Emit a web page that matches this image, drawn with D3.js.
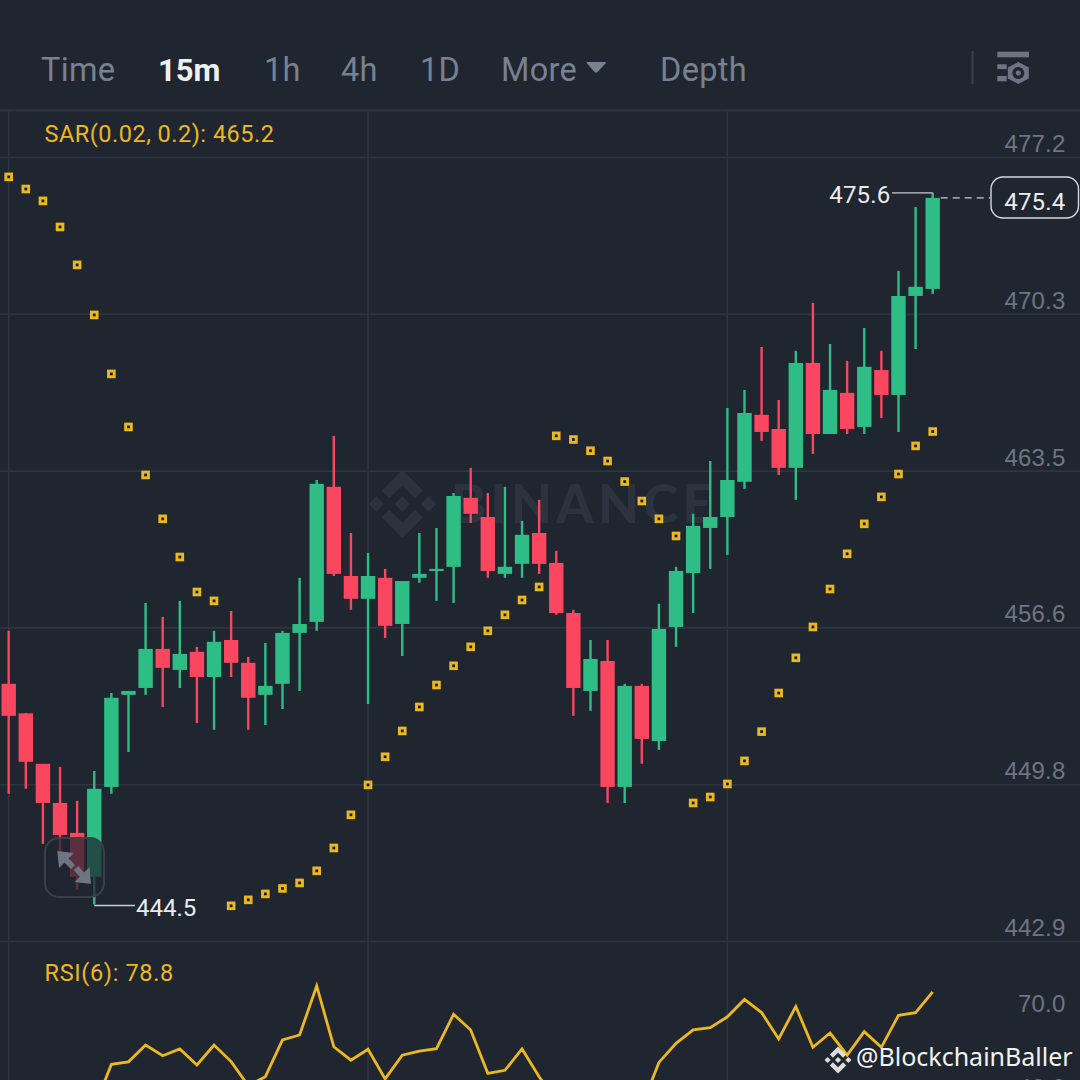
<!DOCTYPE html>
<html>
<head>
<meta charset="utf-8">
<script src="https://cdnjs.cloudflare.com/ajax/libs/d3/7.8.5/d3.min.js"></script>
<style>
  html, body { margin: 0; padding: 0; background: #1f2630; }
  svg { display: block; font-family: Roboto, sans-serif; }
</style>
</head>
<body>
<svg id="chart"></svg>
<script>
const candleOpen = [454.15,452.86,450.65,448.94,447.63,445.71,449.64,453.67,453.97,455.68,454.76,455.55,454.45,456.07,455.07,453.67,454.15,456.38,456.86,462.77,458.87,457.87,458.79,456.77,458.79,459.09,459.27,462.29,461.45,458.96,459.40,460.75,459.44,457.25,453.84,455.15,449.64,454.06,451.65,456.64,459.00,460.97,461.45,462.99,465.92,465.30,463.60,468.19,465.08,466.88,465.39,467.88,466.79,471.12,471.43];
const candleClose = [452.75,450.74,448.94,447.54,445.71,449.56,453.54,453.84,455.68,454.85,455.46,454.45,455.99,455.07,453.54,454.06,456.38,456.77,462.90,458.96,457.87,458.87,456.69,458.65,458.96,459.18,462.37,461.59,459.09,459.27,460.67,459.40,457.25,453.97,455.24,449.64,454.06,451.74,456.55,459.09,461.06,461.45,463.07,466.00,465.17,463.60,468.19,465.08,467.01,465.30,468.02,466.79,471.12,471.52,475.41];
const candleHigh = [456.47,452.88,450.65,450.52,449.03,450.34,453.75,453.84,457.69,457.08,457.78,455.77,456.47,457.34,455.33,455.94,456.47,458.79,463.07,465.00,460.75,459.88,459.18,458.65,460.75,460.97,462.50,463.60,462.50,462.77,461.28,462.20,459.97,457.39,456.07,456.07,454.15,454.15,457.65,459.27,461.59,463.90,466.22,467.01,468.89,466.57,468.72,470.82,469.02,468.28,469.72,468.72,472.22,475.01,475.63];
const candleLow = [449.34,449.56,447.15,446.80,445.14,444.50,449.34,451.17,453.67,453.14,453.97,452.44,452.14,454.45,452.14,452.35,453.05,453.84,456.47,458.87,457.39,453.27,456.16,455.37,458.57,457.78,457.69,461.19,458.79,458.79,458.79,458.96,457.17,452.75,452.97,448.94,448.94,450.65,451.26,455.77,457.25,459.18,459.79,462.68,464.78,463.29,462.20,464.21,465.08,465.08,465.08,465.78,465.17,468.80,471.21];
const sarValues = [476.33,475.80,475.28,474.14,472.48,470.29,467.71,465.39,463.29,461.37,459.70,458.17,457.78,444.44,444.70,444.96,445.20,445.44,445.97,446.97,448.42,449.73,450.96,452.09,453.14,454.10,454.94,455.77,456.47,457.17,457.82,458.39,465.00,464.84,464.35,463.90,463.00,462.15,461.37,460.62,448.94,449.20,449.77,450.78,452.06,453.75,455.29,456.64,458.30,459.84,461.15,462.33,463.33,464.56,465.19];
const rsiValues = [null,null,null,null,null,37.5,52.9,53.8,59.8,56.0,58.4,52.7,59.8,53.9,45.3,48.5,61.6,63.4,80.9,59.2,54.4,58.3,47.7,56.2,57.6,58.5,70.8,65.2,49.7,50.8,58.4,48.5,40.0,33.0,36.0,25.0,28.0,38.0,53.6,60.4,65.2,66.0,69.9,76.1,71.4,62.0,73.6,59.0,64.1,56.2,64.6,59.0,70.4,71.4,78.8];
const priceTicks = [477.2,470.34,463.48,456.62,449.76,442.9];
const rsiTicks = [70,40];
const gridCandles = [0,21,42];
const menuItems = ["Time","15m","1h","4h","1D","More","Depth"];
const menuX = [41,158,264,341,420,501,660];

const width = 1080;
const height = 1080;
const green = "#2ebd85";
const red = "#fb4660";
const gold = "#ecb81f";
const gridColor = "#2e3541";
const bg = "#1f2630";
const axisGrey = "#6d7582";

const svg = d3.select("#chart")
  .attr("width", width)
  .attr("height", height)
  .style("background", bg);

const x = d3.scaleLinear().domain([0, candleOpen.length - 1]).range([8.7, 932.7]);
const y = d3.scaleLinear().domain([442.9, 477.2]).range([941, 157]);
const yRsi = d3.scaleLinear().domain([40, 70]).range([1100.5, 1016.5]);

// vertical grid
svg.selectAll(".vgrid")
  .data(gridCandles)
  .join("line")
    .attr("class", "vgrid")
    .attr("x1", d => x(d))
    .attr("x2", d => x(d))
    .attr("y1", 111)
    .attr("y2", height)
    .attr("stroke", gridColor)
    .attr("stroke-width", 1.6);

// price axis, ticks double as the horizontal grid
const priceAxis = d3.axisRight(y)
  .tickValues(priceTicks)
  .tickSize(width)
  .tickFormat(d3.format(".1f"));
svg.append("g")
  .call(priceAxis)
  .call(g => g.select(".domain").remove())
  .call(g => g.selectAll("line").attr("stroke", gridColor).attr("stroke-width", 1.6))
  .call(g => g.selectAll("text")
    .attr("x", 1065.5)
    .attr("dy", "-5.5")
    .attr("text-anchor", "end")
    .attr("fill", axisGrey)
    .style("font-size", "24px")
    .style("letter-spacing", "0.2px"));

const rsiAxis = d3.axisRight(yRsi)
  .tickValues(rsiTicks)
  .tickSize(0)
  .tickFormat(d3.format(".1f"));
svg.append("g")
  .call(rsiAxis)
  .call(g => g.select(".domain").remove())
  .call(g => g.selectAll("text")
    .attr("x", 1065.5)
    .attr("dy", "-5.5")
    .attr("text-anchor", "end")
    .attr("fill", axisGrey)
    .style("font-size", "24px")
    .style("letter-spacing", "0.2px"));

// header line
svg.append("rect").attr("x", 0).attr("y", 109).attr("width", width).attr("height", 2.5).attr("fill", "#2a313c");

// binance logo, unit coords centred on 0,0 with half width 34
function logo(parent, cx, cy, k, color) {
  const g = parent.append("g")
    .attr("transform", `translate(${cx},${cy}) scale(${k})`)
    .attr("fill", color);
  const d = 7.8;
  [[0,0],[-26,0],[26,0]].forEach(c => {
    g.append("path").attr("d", `M${c[0]},${c[1]-d}L${c[0]+d},${c[1]}L${c[0]},${c[1]+d}L${c[0]-d},${c[1]}Z`);
  });
  g.append("path").attr("d", "M0,-34L20.5,-13.5L12.7,-5.7L0,-18.4L-12.7,-5.7L-20.5,-13.5Z");
  g.append("path").attr("d", "M0,34L20.5,13.5L12.7,5.7L0,18.4L-12.7,5.7L-20.5,13.5Z");
}

// watermark
logo(svg, 402.3, 504, 1, "#2c323e");
svg.append("text")
  .attr("x", 451)
  .attr("y", 523)
  .attr("fill", "#2c323e")
  .attr("textLength", 262)
  .attr("lengthAdjust", "spacing")
  .style("font-family", "Lato, sans-serif")
  .style("font-weight", 900)
  .style("font-size", "53px")
  .text("BINANCE");

// candles
const idx = d3.range(candleOpen.length);
const candleColor = i => candleClose[i] >= candleOpen[i] ? green : red;

svg.selectAll(".wick")
  .data(idx)
  .join("line")
    .attr("class", "wick")
    .attr("x1", i => x(i))
    .attr("x2", i => x(i))
    .attr("y1", i => y(candleHigh[i]))
    .attr("y2", i => y(candleLow[i]))
    .attr("stroke", candleColor)
    .attr("stroke-width", 2.4);

svg.selectAll(".body")
  .data(idx)
  .join("rect")
    .attr("class", "body")
    .attr("x", i => x(i) - 7.2)
    .attr("width", 14.4)
    .attr("y", i => y(Math.max(candleOpen[i], candleClose[i])))
    .attr("height", i => Math.max(1.5, Math.abs(y(candleOpen[i]) - y(candleClose[i]))))
    .attr("fill", candleColor);

// SAR dots
svg.selectAll(".sar")
  .data(sarValues)
  .join("rect")
    .attr("class", "sar")
    .attr("x", (d, i) => x(i) - 2.85)
    .attr("y", d => y(d) - 2.85)
    .attr("width", 5.7)
    .attr("height", 5.7)
    .attr("fill", "#1a1f26")
    .attr("stroke", gold)
    .attr("stroke-width", 2.9);

// RSI line
const rsiLine = d3.line()
  .defined(d => d !== null)
  .x((d, i) => x(i))
  .y(d => yRsi(d));
svg.append("path")
  .attr("d", rsiLine(rsiValues))
  .attr("fill", "none")
  .attr("stroke", gold)
  .attr("stroke-width", 2.8)
  .attr("stroke-linejoin", "miter");

// indicator titles
svg.append("text").attr("x", 44.5).attr("y", 142).attr("fill", gold)
  .style("font-size", "23.5px").style("letter-spacing", "0.5px").text("SAR(0.02, 0.2): 465.2");
svg.append("text").attr("x", 44.5).attr("y", 981).attr("fill", gold)
  .style("font-size", "23.5px").style("letter-spacing", "0.65px").text("RSI(6): 78.8");

// menu
svg.selectAll(".menu")
  .data(menuItems)
  .join("text")
    .attr("class", "menu")
    .attr("x", (d, i) => menuX[i])
    .attr("y", 81)
    .attr("fill", d => d === "15m" ? "#eef0f3" : "#78818f")
    .style("font-size", d => d === "15m" ? "31px" : "32.5px")
    .style("font-weight", d => d === "15m" ? 700 : 400)
    .style("letter-spacing", d => d === "15m" ? "0" : "0.3px")
    .text(d => d);
svg.append("path").attr("d", "M587,62L605.5,62Q606.5,62 605.5,63.5L597.5,72Q596,73.5 594.5,72L587,63.5Q586,62 587,62Z").attr("fill", "#78818f");
svg.append("rect").attr("x", 971.5).attr("y", 51).attr("width", 2).attr("height", 33).attr("fill", "#3a414d");

// settings icon
const ic = svg.append("g").attr("fill", "#6d7582");
ic.append("rect").attr("x", 997.3).attr("y", 51.7).attr("width", 31.7).attr("height", 5.6);
ic.append("rect").attr("x", 997.3).attr("y", 64.3).attr("width", 9.4).attr("height", 4.8);
ic.append("rect").attr("x", 997.3).attr("y", 76).attr("width", 9.4).attr("height", 5.3);
ic.append("path").attr("d", "M1018.3,62L1028.8,67.5L1028.8,78.5L1018.3,84L1007.8,78.5L1007.8,67.5Z");
ic.append("circle").attr("cx", 1018.3).attr("cy", 73).attr("r", 6).attr("fill", bg);
ic.append("circle").attr("cx", 1018.3).attr("cy", 73).attr("r", 2.6);

// high, low and last price labels
const hiIdx = d3.greatest(idx, i => candleHigh[i]);
const loIdx = d3.least(idx, i => candleLow[i]);
const lastIdx = idx[idx.length - 1];
const fmt = d3.format(".1f");

svg.append("line")
  .attr("x1", 892).attr("x2", x(hiIdx))
  .attr("y1", y(candleHigh[hiIdx])).attr("y2", y(candleHigh[hiIdx]))
  .attr("stroke", "#c9ccd1").attr("stroke-width", 1.4);
svg.append("text").attr("x", 890.5).attr("y", y(candleHigh[hiIdx]) + 10.5)
  .attr("text-anchor", "end").attr("fill", "#eaecef")
  .style("font-size", "24px").style("letter-spacing", "0.2px").text(fmt(candleHigh[hiIdx]));

svg.append("line")
  .attr("x1", x(loIdx)).attr("x2", 135)
  .attr("y1", y(candleLow[loIdx]) + 1).attr("y2", y(candleLow[loIdx]) + 1)
  .attr("stroke", "#c9ccd1").attr("stroke-width", 1.4);
svg.append("text").attr("x", 136).attr("y", y(candleLow[loIdx]) + 12)
  .attr("fill", "#eaecef")
  .style("font-size", "24px").text(fmt(candleLow[loIdx]));

svg.append("line")
  .attr("x1", x(lastIdx) + 8).attr("x2", 990)
  .attr("y1", y(candleClose[lastIdx])).attr("y2", y(candleClose[lastIdx]))
  .attr("stroke", "#c9ccd1").attr("stroke-width", 1.2)
  .attr("stroke-dasharray", "7 5");
svg.append("rect")
  .attr("x", 991).attr("y", 177).attr("width", 87.5).attr("height", 41).attr("rx", 12)
  .attr("fill", bg).attr("stroke", "#d5d8dc").attr("stroke-width", 1.4);
svg.append("text").attr("x", 1065.5).attr("y", 210)
  .attr("text-anchor", "end").attr("fill", "#eaecef")
  .style("font-size", "24px").style("letter-spacing", "0.2px").text(fmt(candleClose[lastIdx]));

// expand button
svg.append("rect")
  .attr("x", 45).attr("y", 838).attr("width", 59).attr("height", 59).attr("rx", 14)
  .attr("fill", bg).attr("fill-opacity", 0.72)
  .attr("stroke", "#39404c").attr("stroke-width", 2);
const arrow = svg.append("g").attr("fill", "#6d7582").attr("stroke", "#6d7582").attr("stroke-width", 6);
arrow.append("path").attr("stroke", "none").attr("d", "M57.3,851L74,853L59,868Z");
arrow.append("path").attr("stroke", "none").attr("d", "M91,884L74.5,882L89.5,867Z");
arrow.append("line").attr("x1", 63).attr("y1", 857).attr("x2", 73).attr("y2", 867);
arrow.append("line").attr("x1", 76).attr("y1", 868).attr("x2", 85).attr("y2", 878);

// author tag
logo(svg, 838, 1060, 0.4, "#dcdcdc");
svg.append("text")
  .attr("x", 856)
  .attr("y", 1065.5)
  .attr("fill", "#f2f2f2")
  .style("font-family", "'Noto Sans', sans-serif")
  .style("font-size", "25px")
  .text("@BlockchainBaller");
</script>
</body>
</html>
